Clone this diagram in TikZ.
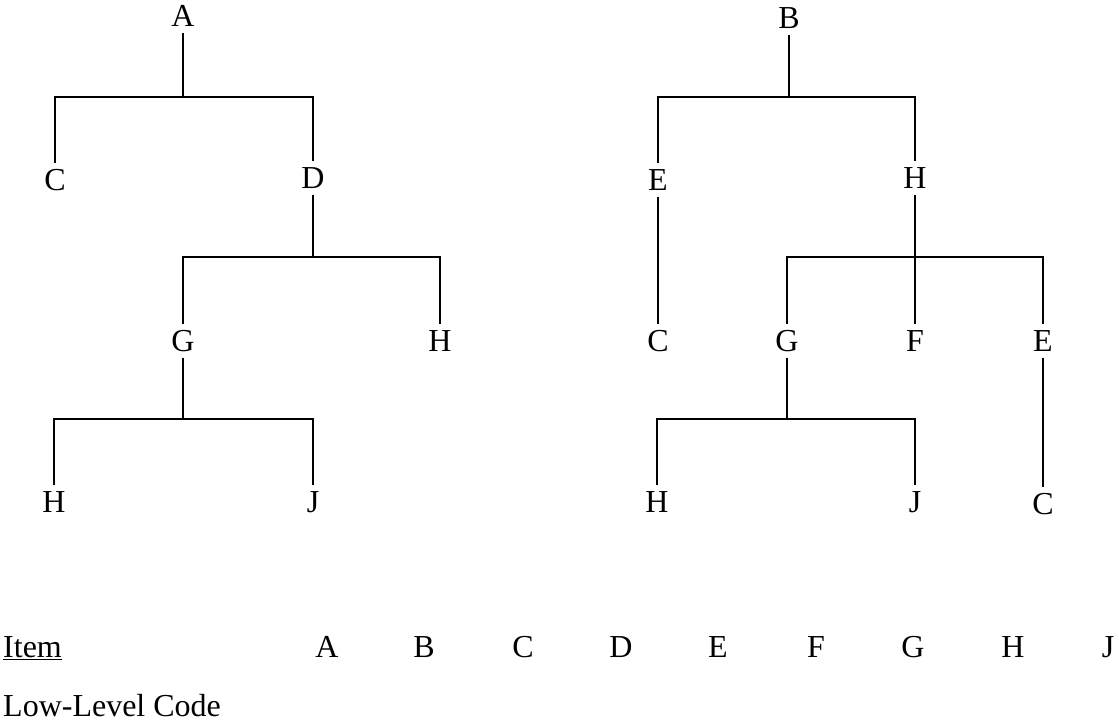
\documentclass[tikz,border=0pt]{standalone}
\usepackage{fontspec}
\setmainfont{Liberation Serif}
\begin{document}
\begin{tikzpicture}[x=1pt,y=-1pt,
  lbl/.style={font=\fontsize{32}{34}\selectfont,inner xsep=0pt,inner ysep=6pt,text height=21pt,text depth=0pt},
  link/.style={line width=1.3pt}]
\useasboundingbox (0,0) rectangle (1119,724);
% left tree
\node[lbl] (A) at (183,16) {A};
\node[lbl] (C1) at (55,180) {C};
\node[lbl] (D1) at (313,178) {D};
\node[lbl] (G1) at (183,341) {G};
\node[lbl] (H1) at (440,341) {H};
\node[lbl] (H2) at (54,502) {H};
\node[lbl] (J1) at (313,502) {J};
\coordinate (jA) at (183,97);
\coordinate (jD) at (313,257);
\coordinate (jG) at (183,419);
\draw[link] (A.south) -- (jA);
\draw[link] (C1.north) |- (jA) -| (D1.north);
\draw[link] (D1.south) -- (jD);
\draw[link] (G1.north) |- (jD) -| (H1.north);
\draw[link] (G1.south) -- (jG);
\draw[link] (H2.north) |- (jG) -| (J1.north);
% right tree
\node[lbl] (B) at (789,18) {B};
\node[lbl] (E1) at (658,180) {E};
\node[lbl] (H3) at (915,178) {H};
\node[lbl] (C2) at (658,341) {C};
\node[lbl] (G2) at (787,341) {G};
\node[lbl] (F1) at (915,341) {F};
\node[lbl] (E2) at (1043,341) {E};
\node[lbl] (H4) at (657,502) {H};
\node[lbl] (J2) at (915,502) {J};
\node[lbl] (C3) at (1043,504) {C};
\coordinate (jB) at (789,97);
\coordinate (jH) at (915,257);
\coordinate (jG2) at (787,419);
\draw[link] (B.south) -- (jB);
\draw[link] (E1.north) |- (jB) -| (H3.north);
\draw[link] (E1.south) -- (C2.north);
\draw[link] (H3.south) -- (F1.north);
\draw[link] (G2.north) |- (jH) -| (E2.north);
\draw[link] (G2.south) -- (jG2);
\draw[link] (H4.north) |- (jG2) -| (J2.north);
\draw[link] (E2.south) -- (C3.north);
% table
\node[lbl,anchor=west] (item) at (3,647) {\underline{Item}};
\foreach \t/\x in {A/327,B/424,C/523,D/621,E/718,F/816,G/913,H/1013,J/1108}
  \node[lbl] (i\t) at (\x,647) {\t};
\node[lbl,anchor=west] (llc) at (3,706) {Low-Level Code};
\end{tikzpicture}
\end{document}
